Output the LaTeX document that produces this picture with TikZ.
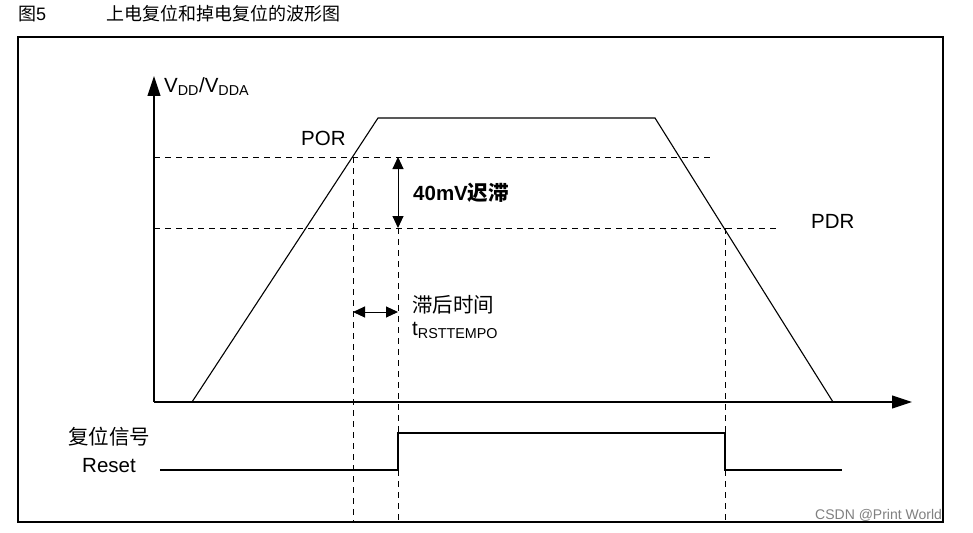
\documentclass[tikz,border=0pt]{standalone}
\usepackage{fontspec}
\setmainfont{Liberation Sans}
\newfontfamily\cjk{Noto Sans CJK SC}
\usetikzlibrary{arrows.meta}
\begin{document}
\begin{tikzpicture}[x=1pt,y=-1pt,
  dsh/.style={dashed,dash pattern=on 6pt off 5pt,line width=1pt},
  ln/.style={line width=1.1pt},
  lbl/.style={inner sep=0pt,anchor=west,font=\fontsize{20.5}{20.5}\selectfont},
  dbl/.style={{Triangle[length=12pt,width=11pt]}-{Triangle[length=12pt,width=11pt]},line width=1pt}]
\useasboundingbox[fill=white] (0,0) rectangle (973,532);
\node[lbl,font=\fontsize{18}{18}\selectfont] (t1) at (18,14) {{\cjk 图}5};
\node[lbl,font=\fontsize{18}{18}\selectfont] (t2) at (106,14) {\cjk 上电复位和掉电复位的波形图};
\draw[line width=1.1pt] (18,37) rectangle (943,522);
\coordinate (o) at (154,402);
\coordinate (ytop) at (154,76);
\coordinate (xend) at (912,402);
\draw[ln,-{Triangle[length=20pt,width=13pt]}] (o) -- (ytop);
\draw[ln,-{Triangle[length=20pt,width=13pt]}] (o) -- (xend);
\node[lbl] (vdd) at (164,87) {V\textsubscript{DD}/V\textsubscript{DDA}};
\coordinate (a) at (192,402); \coordinate (b) at (378,118);
\coordinate (c) at (655,118); \coordinate (d) at (833,402);
\draw[ln] (a) -- (b) -- (c) -- (d);
\coordinate (p1) at (154,157); \coordinate (p2) at (712,157);
\coordinate (q1) at (154,228); \coordinate (q2) at (780,228);
\draw[dsh] (p1) -- (p2);
\draw[dsh] (q1) -- (q2);
\node[lbl] (por) at (301,138) {POR};
\node[lbl] (pdr) at (811,221) {PDR};
\coordinate (v1t) at (353,157); \coordinate (v1b) at (353,522);
\coordinate (v2t) at (398,228); \coordinate (v2b) at (398,522);
\coordinate (v3t) at (725,228); \coordinate (v3b) at (725,522);
\draw[dsh] (v1t) -- (v1b);
\draw[dsh] (v2t) -- (v2b);
\draw[dsh] (v3t) -- (v3b);
\coordinate (h1) at (398,157); \coordinate (h2) at (398,228);
\draw[dbl] (h1) -- (h2);
\node[lbl] (hys) at (413,193) {\bfseries 40mV{\cjk\bfseries 迟滞}};
\coordinate (g1) at (353,312); \coordinate (g2) at (398,312);
\draw[dbl] (g1) -- (g2);
\node[lbl] (dl) at (412,305) {\cjk 滞后时间};
\node[lbl] (tr) at (412,330) {t\textsubscript{RSTTEMPO}};
\draw[line width=2.6pt] (160,470) -- (398,470) -- (398,433) -- (725,433) -- (725,470) -- (842,470);
\node[lbl] (rs1) at (68,437) {\cjk 复位信号};
\node[lbl] (rs2) at (82,466) {Reset};
\node[lbl,text=gray,font=\fontsize{14}{14}\selectfont] (wm) at (815,515) {CSDN @Print World};
\end{tikzpicture}
\end{document}
